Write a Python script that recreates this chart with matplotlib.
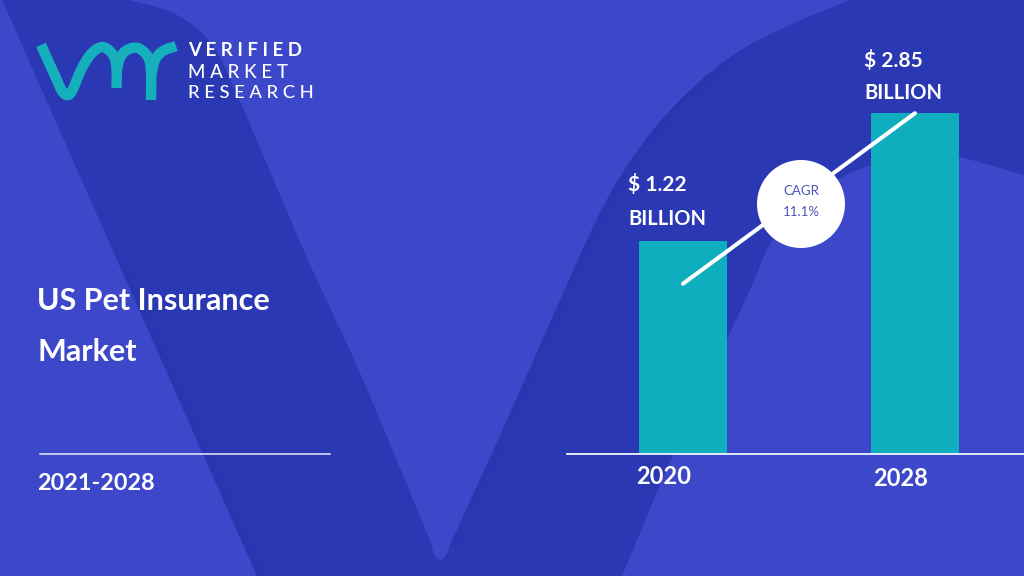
import numpy as np
import matplotlib
matplotlib.use('Agg')
import matplotlib.pyplot as plt
from matplotlib.patches import Polygon, Circle

years = ['2020', '2028']
market_size = [1.22, 2.85]
size_labels = ['$ 1.22', '$ 2.85']
cagr = '11.1%'
title_lines = ['US Pet Insurance', 'Market']
period = '2021-2028'

LIGHT = '#3c47ca'
DARK = '#2a38b4'
TEAL = '#0eaebf'
FONT = 'Lato'

fig = plt.figure(figsize=(10.24, 5.76), dpi=100, facecolor=LIGHT)

# background, in pixel coordinates of the picture
bg = fig.add_axes([0, 0, 1, 1])
bg.set_xlim(0, 1024)
bg.set_ylim(576, 0)
bg.axis('off')

def smooth(points, steps=12):
    # catmull-rom through the outline points so the curves look round
    pts = np.array(points, dtype=float)
    pts = np.vstack([2 * pts[0] - pts[1], pts, 2 * pts[-1] - pts[-2]])
    out = []
    for i in range(1, len(pts) - 2):
        p0, p1, p2, p3 = pts[i - 1], pts[i], pts[i + 1], pts[i + 2]
        for t in np.linspace(0, 1, steps, endpoint=False):
            out.append(0.5 * (2 * p1 + (p2 - p0) * t + (2 * p0 - 5 * p1 + 4 * p2 - p3) * t ** 2
                              + (3 * p1 - p0 - 3 * p2 + p3) * t ** 3))
    out.append(pts[-2])
    return np.array(out)

# big V shape
left_arm = [(130, 0), (175, 14), (210, 42), (235, 90), (308, 260), (360, 373), (432, 545)]
tip = [(432, 545), (434, 555), (440, 560), (446, 555), (450, 545)]
right_outer = [(450, 545), (507, 420), (560, 300), (603, 207), (640, 147), (682, 98), (733, 55), (790, 25), (850, 0)]
right_inner = [(1024, 175), (958, 157), (915, 156), (871, 165), (833, 182), (800, 205), (772, 240),
               (750, 290), (728, 337), (673, 455), (622, 576)]
outline = np.vstack([[(2, 0)], smooth(left_arm)[:-1], smooth(tip)[:-1], smooth(right_outer),
                     [(1024, 0)], smooth(right_inner), [(257, 576)]])
bg.add_patch(Polygon(outline, closed=True, fc=DARK, ec='none', zorder=1))

# soft shadow next to the edges of the V
shadow = smooth(right_outer[:7])
for k, a in zip([2, 5, 8, 11], [0.12, 0.08, 0.05, 0.03]):
    bg.plot(shadow[:, 0] + k, shadow[:, 1] + k * 0.4, color='#1f2c98', alpha=a, lw=3, zorder=1.5)
for k, a in zip([2, 5, 8, 11], [0.12, 0.08, 0.05, 0.03]):
    bg.plot([117 + k, 257 + k], [260, 576], color='#1f2c98', alpha=a, lw=3, zorder=1.5)

# bars, on their own axes with a cut-off baseline like the original
ax = fig.add_axes([567 / 1024, (576 - 453.5) / 576, 457 / 1024, 453.5 / 576])
ax.patch.set_alpha(0)
base = -1.48
ax.bar(range(len(years)), np.array(market_size) - base, bottom=base, width=0.379, color=TEAL, zorder=2)
ax.plot(range(len(years)), [0.68, 2.85], color='white', lw=2.9, solid_capstyle='round', zorder=3)
ax.set_xlim(-0.5, 1.47)
ax.set_ylim(base, 4.29)
ax.set_xticks([])
ax.set_yticks([])
for side in ['top', 'left', 'right']:
    ax.spines[side].set_visible(False)
ax.spines['bottom'].set_color('#f2f3fb')
ax.spines['bottom'].set_linewidth(1.3)

# overlay for circle, logo and text
top = fig.add_axes([0, 0, 1, 1])
top.set_xlim(0, 1024)
top.set_ylim(576, 0)
top.axis('off')
top.patch.set_alpha(0)

top.add_patch(Circle((801, 204), 44, fc='white', ec='none', zorder=4))
top.text(801, 191, 'CAGR', color='#4b55b8', fontsize=9.5, ha='center', va='center', family=FONT, zorder=5)
top.text(801, 212, cagr, color='#4b55b8', fontsize=9.5, ha='center', va='center', family=FONT, zorder=5)

# logo mark
logo = [
    [(41, 45), (56, 78), (62, 91), (67, 95), (72, 91), (82, 68), (92, 53), (103, 47), (113, 55), (116.5, 68), (116.5, 88)],
    [(116.5, 72), (120, 58), (127, 50), (138, 48), (148, 57), (151, 72), (151, 100)],
    [(151, 76), (155, 60), (163, 51), (176, 46)],
]
for part in logo:
    xy = smooth(part)
    top.plot(xy[:, 0], xy[:, 1], color='#16b0bd', lw=7.5, solid_capstyle='butt', solid_joinstyle='round', zorder=4)

# the logo words are letter spaced
top.text(188, 51, ' '.join('VERIFIED'), color='white', fontsize=13.5, weight='bold', family=FONT, va='center', zorder=5)
top.text(188, 72, ' '.join('MARKET'), color='white', fontsize=13.5, weight='medium', family=FONT, va='center', zorder=5)
top.text(188, 93, ' '.join('RESEARCH'), color='white', fontsize=13.2, weight='medium', family=FONT, va='center', zorder=5)

# titles on the left
top.text(37, 301, title_lines[0], color='white', fontsize=22, weight='bold', family=FONT, va='center')
top.text(37, 352, title_lines[1], color='white', fontsize=22, weight='bold', family=FONT, va='center')
top.plot([40, 330], [454, 454], color='#e8eafa', lw=1.1)
top.text(37, 483, period, color='white', fontsize=16.8, weight='bold', family=FONT, va='center')

# bar labels
top.text(628, 185, size_labels[0], color='white', fontsize=15, weight='bold', family=FONT, va='center', zorder=5)
top.text(628, 219, 'BILLION', color='white', fontsize=14.5, weight='bold', family=FONT, va='center', zorder=5)
top.text(864, 60, size_labels[1], color='white', fontsize=15, weight='bold', family=FONT, va='center', zorder=5)
top.text(864, 93, 'BILLION', color='white', fontsize=14.5, weight='bold', family=FONT, va='center', zorder=5)
top.text(664, 476, years[0], color='white', fontsize=17, weight='bold', family=FONT, ha='center', va='center', zorder=5)
top.text(901, 478, years[1], color='white', fontsize=17, weight='bold', family=FONT, ha='center', va='center', zorder=5)

fig.savefig('out.png', dpi=100, facecolor=LIGHT)
